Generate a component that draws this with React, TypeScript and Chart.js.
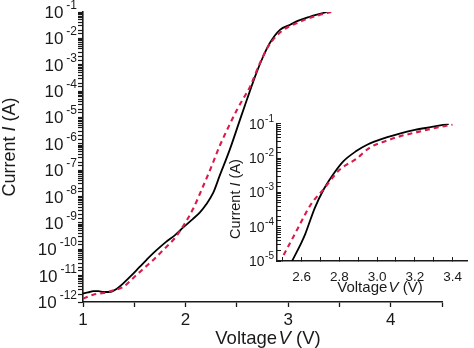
import React, { useEffect, useRef } from "react";
import { Chart, registerables } from "chart.js";

Chart.register(...registerables);

const FONT = '"Liberation Sans", Arial, Helvetica, sans-serif';
const INK = "#1a1a1a";
const RED = "#d81b4a";
const CLEAR = "rgba(0,0,0,0)";

// ---- Main panel: measured (black solid) ----
const mainVoltageMeasured = [1.0, 1.05, 1.1, 1.15, 1.2, 1.26, 1.33, 1.39, 1.47, 1.55, 1.62, 1.68, 1.75, 1.81, 1.9, 1.98, 2.07, 2.14, 2.2, 2.27, 2.33, 2.43, 2.53, 2.6, 2.69, 2.75, 2.82, 2.92, 3.02, 3.1, 3.21, 3.3, 3.38];
const mainCurrentMeasured = [2.1e-12, 2.3e-12, 2.6e-12, 2.6e-12, 2.4e-12, 2.4e-12, 3.2e-12, 5.0e-12, 1.0e-11, 2.1e-11, 4.0e-11, 6.8e-11, 1.2e-10, 1.9e-10, 3.5e-10, 6.9e-10, 1.4e-9, 2.5e-9, 5.0e-9, 1.4e-8, 5.8e-8, 5.9e-7, 8.1e-6, 5.0e-5, 4.8e-4, 1.8e-3, 6.5e-3, 2.1e-2, 3.3e-2, 4.7e-2, 6.6e-2, 8.3e-2, 1.0e-1];

// ---- Main panel: fit (red dashed) ----
const mainVoltageFit = [1.0, 1.1, 1.2, 1.3, 1.39, 1.5, 1.6, 1.7, 1.8, 1.9, 1.98, 2.07, 2.17, 2.25, 2.33, 2.42, 2.5, 2.56, 2.63, 2.71, 2.8, 2.9, 3.0, 3.1, 3.2, 3.3, 3.42];
const mainCurrentFit = [1.35e-12, 1.9e-12, 2.2e-12, 2.8e-12, 3.7e-12, 8.9e-12, 2.0e-11, 4.5e-11, 1.1e-10, 2.8e-10, 7.9e-10, 3.2e-9, 2.4e-8, 1.3e-7, 7.9e-7, 4.5e-6, 1.9e-5, 5.0e-5, 1.5e-4, 8.5e-4, 4.5e-3, 1.4e-2, 2.7e-2, 4.0e-2, 5.8e-2, 7.6e-2, 1.0e-1];

// ---- Inset: measured (black solid) ----
const insetVoltageMeasured = [2.55, 2.6, 2.62, 2.67, 2.72, 2.77, 2.82, 2.89, 2.95, 3.05, 3.12, 3.2, 3.29, 3.38];
const insetCurrentMeasured = [1.0e-5, 3.5e-5, 6.2e-5, 3.5e-4, 1.3e-3, 3.5e-3, 7.9e-3, 1.6e-2, 2.5e-2, 4.0e-2, 5.2e-2, 6.6e-2, 8.1e-2, 1.0e-1];

// ---- Inset: fit (red dashed) ----
const insetVoltageFit = [2.505, 2.54, 2.58, 2.65, 2.72, 2.8, 2.89, 2.96, 3.05, 3.12, 3.2, 3.29, 3.4];
const insetCurrentFit = [1.5e-5, 3.4e-5, 8.9e-5, 4.5e-4, 1.3e-3, 4.5e-3, 9.5e-3, 2.0e-2, 3.2e-2, 4.3e-2, 5.5e-2, 7.2e-2, 9.5e-2];

// ---- Axes / tick labels ----
const mainXRange = [1, 4.5];
const mainXLabels = [1, 2, 3, 4];
const mainYRange = [1e-12, 1e-1];
const insetXRange = [2.47, 3.48];
const insetXLabels = [2.6, 2.8, 3.0, 3.2, 3.4];
const insetYRange = [1e-5, 1e-1];

// axis titles: [plain, italic symbol, unit]
const xTitleParts = ["Voltage", "V", "(V)"];
const yTitleParts = ["Current", "I", "(A)"];
const xTitle = xTitleParts.join(" ");
const yTitle = yTitleParts.join(" ");

const SUP: Record<string, string> = { "-": "\u207B", "0": "\u2070", "1": "\u00B9", "2": "\u00B2", "3": "\u00B3", "4": "\u2074", "5": "\u2075", "6": "\u2076", "7": "\u2077", "8": "\u2078", "9": "\u2079" };
const decadeOf = (v: number): number | null => {
  const e = Math.log10(v);
  const r = Math.round(e);
  return Math.abs(e - r) > 1e-6 ? null : r;
};
const pow10Label = (v: number) => {
  const r = decadeOf(v);
  if (r === null) return "";
  return "10" + String(r).split("").map((c) => SUP[c] || c).join("");
};

const toPoints = (xs: number[], ys: number[]) => xs.map((x, i) => ({ x, y: ys[i] }));

function makeDatasets(vm: number[], im: number[], vf: number[], iff: number[], w: number) {
  return [
    {
      label: "fit",
      data: toPoints(vf, iff),
      borderColor: RED,
      borderWidth: w + 0.3,
      borderDash: [5, 4],
      pointRadius: 0,
      fill: false,
      cubicInterpolationMode: "monotone" as const,
      order: 0,
    },
    {
      label: "measured",
      data: toPoints(vm, im),
      borderColor: "#000",
      borderWidth: w,
      pointRadius: 0,
      fill: false,
      cubicInterpolationMode: "monotone" as const,
      order: 1,
    },
  ];
}

type Seg = { t: string; italic?: boolean };
function drawSegs(ctx: CanvasRenderingContext2D, segs: Seg[], size: number, cx: number, cy: number, rotate: boolean) {
  ctx.save();
  ctx.translate(cx, cy);
  if (rotate) ctx.rotate(-Math.PI / 2);
  const fonts = segs.map((s) => `${s.italic ? "italic " : ""}${size}px ${FONT}`);
  let total = 0;
  const widths = segs.map((s, i) => {
    ctx.font = fonts[i];
    const w = ctx.measureText(s.t).width;
    total += w;
    return w;
  });
  let x = -total / 2;
  ctx.textBaseline = "middle";
  ctx.textAlign = "left";
  ctx.fillStyle = INK;
  segs.forEach((s, i) => {
    ctx.font = fonts[i];
    ctx.fillText(s.t, x, 0);
    x += widths[i];
  });
  ctx.restore();
}

// Draws power-of-ten tick labels with raised exponents and axis titles with italic symbols.
const richTextPlugin = {
  id: "richText",
  afterDraw(chart: any, _args: any, o: any) {
    const ctx: CanvasRenderingContext2D = chart.ctx;
    const ys = chart.scales.y;
    ctx.save();
    ctx.fillStyle = INK;
    ctx.textBaseline = "alphabetic";
    ctx.textAlign = "left";
    for (const t of ys.ticks) {
      const r = decadeOf(t.value);
      if (r === null) continue;
      const py = ys.getPixelForValue(t.value);
      const exp = String(r);
      ctx.font = `${o.expSize}px ${FONT}`;
      const ew = ctx.measureText(exp).width;
      ctx.font = `${o.baseSize}px ${FONT}`;
      const bw = ctx.measureText("10").width;
      const xe = o.labelRight - ew;
      const xb = xe - o.gap - bw;
      ctx.fillText("10", xb, py + o.baseDrop);
      ctx.font = `${o.expSize}px ${FONT}`;
      ctx.fillText(exp, xe, py + o.expDrop);
    }
    ctx.restore();
    const sp = "\u200A";
    drawSegs(ctx, [{ t: xTitleParts[0] + sp }, { t: xTitleParts[1], italic: true }, { t: " " + xTitleParts[2] }], o.xTitleSize, o.xTitleX, o.xTitleY, false);
    drawSegs(ctx, [{ t: yTitleParts[0] + " " }, { t: yTitleParts[1], italic: true }, { t: " " + yTitleParts[2] }], o.yTitleSize, o.yTitleX, o.yTitleY, true);
  },
};

export default function App() {
  const mainRef = useRef<HTMLCanvasElement>(null);
  const insetRef = useRef<HTMLCanvasElement>(null);

  useEffect(() => {
    const main = new Chart(mainRef.current!, {
      type: "line",
      data: { datasets: makeDatasets(mainVoltageMeasured, mainCurrentMeasured, mainVoltageFit, mainCurrentFit, 1.8) as any },
      plugins: [richTextPlugin as any],
      options: {
        animation: false,
        responsive: false,
        devicePixelRatio: 1,
        layout: { padding: { top: 12, right: 32, left: 0, bottom: 0 } },
        plugins: {
          legend: { display: false },
          tooltip: { enabled: false },
          richText: {
            labelRight: 77, baseSize: 17, expSize: 12, gap: 3, baseDrop: 6, expDrop: -3,
            xTitleSize: 18.5, xTitleX: 268, xTitleY: 339,
            yTitleSize: 18, yTitleX: 10, yTitleY: 147,
          },
        } as any,
        scales: {
          x: {
            type: "linear",
            min: mainXRange[0],
            max: mainXRange[1],
            ticks: {
              stepSize: 0.5,
              autoSkip: false,
              maxRotation: 0,
              color: INK,
              padding: 3,
              font: { family: FONT, size: 17 },
              callback: (v: any) => (mainXLabels.some((t) => Math.abs(t - v) < 1e-6) ? String(v) : ""),
            },
            grid: { display: true, drawOnChartArea: false, drawTicks: true, tickLength: 5, tickColor: INK, tickWidth: 1.3 },
            border: { display: true, color: INK, width: 1.6 },
            title: { display: true, text: xTitle, color: CLEAR, padding: 0, font: { family: FONT, size: 17, lineHeight: 1 } },
            afterFit: (s: any) => { s.height = 46; },
          },
          y: {
            type: "logarithmic",
            min: mainYRange[0],
            max: mainYRange[1],
            ticks: {
              autoSkip: false,
              color: CLEAR,
              padding: 2,
              font: { family: FONT, size: 16 },
              callback: (v: any) => pow10Label(Number(v)),
            },
            grid: { display: true, drawOnChartArea: false, drawTicks: true, tickLength: 5, tickColor: INK, tickWidth: 1.2 },
            border: { display: true, color: INK, width: 1.6 },
            title: { display: true, text: yTitle, color: CLEAR, padding: 0, font: { family: FONT, size: 16 } },
            afterFit: (s: any) => { s.width = 83; },
          },
        },
      },
    });

    const inset = new Chart(insetRef.current!, {
      type: "line",
      data: { datasets: makeDatasets(insetVoltageMeasured, insetCurrentMeasured, insetVoltageFit, insetCurrentFit, 1.8) as any },
      plugins: [richTextPlugin as any],
      options: {
        animation: false,
        responsive: false,
        devicePixelRatio: 1,
        layout: { padding: { top: 13, right: 1, left: 0, bottom: 0 } },
        plugins: {
          legend: { display: false },
          tooltip: { enabled: false },
          richText: {
            labelRight: 46, baseSize: 14, expSize: 10, gap: 0.5, baseDrop: 5, expDrop: -2,
            xTitleSize: 15, xTitleX: 152, xTitleY: 180,
            yTitleSize: 14.5, yTitleX: 8, yTitleY: 91,
          },
        } as any,
        scales: {
          x: {
            type: "linear",
            min: insetXRange[0],
            max: insetXRange[1],
            ticks: {
              stepSize: 0.1,
              includeBounds: false,
              autoSkip: false,
              maxRotation: 0,
              color: INK,
              padding: 12,
              font: { family: FONT, size: 13.5 },
              callback: (v: any) => {
                const hit = insetXLabels.find((t) => Math.abs(t - v) < 1e-6);
                return hit !== undefined ? hit.toFixed(1) : "";
              },
            },
            grid: { display: true, drawOnChartArea: false, drawTicks: true, tickLength: -4, tickColor: INK, tickWidth: 1 },
            border: { display: true, color: INK, width: 1.5 },
            title: { display: true, text: xTitle, color: CLEAR, padding: 0, font: { family: FONT, size: 14 } },
            afterFit: (s: any) => { s.height = 35; },
          },
          y: {
            type: "logarithmic",
            min: insetYRange[0],
            max: insetYRange[1],
            ticks: {
              autoSkip: false,
              color: CLEAR,
              padding: 8,
              font: { family: FONT, size: 13 },
              callback: (v: any) => pow10Label(Number(v)),
            },
            grid: { display: true, drawOnChartArea: false, drawTicks: true, tickLength: -4, tickColor: INK, tickWidth: 1 },
            border: { display: true, color: INK, width: 1.5 },
            title: { display: true, text: yTitle, color: CLEAR, padding: 0, font: { family: FONT, size: 14 } },
            afterFit: (s: any) => { s.width = 49; },
          },
        },
      },
    });

    return () => {
      main.destroy();
      inset.destroy();
    };
  }, []);

  return (
    <div style={{ position: "fixed", left: 0, top: 0, width: 474, height: 348, background: "#fff", overflow: "hidden" }}>
      <canvas ref={mainRef} width={474} height={348} style={{ position: "absolute", left: 0, top: 0, width: 474, height: 348 }} />
      <canvas ref={insetRef} width={246} height={188} style={{ position: "absolute", left: 228, top: 108, width: 246, height: 188 }} />
    </div>
  );
}
